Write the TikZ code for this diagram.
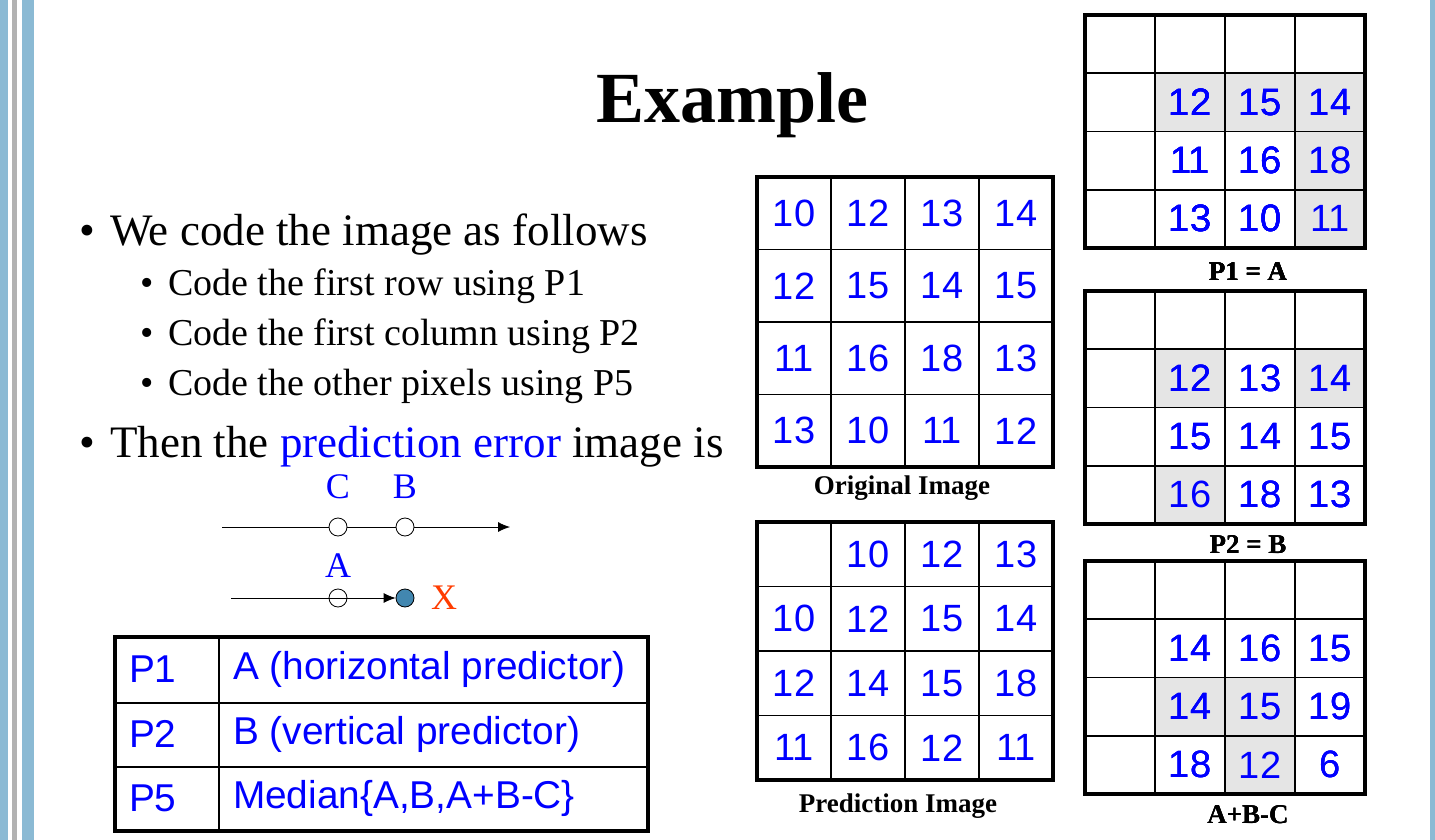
\documentclass[tikz,border=0pt]{standalone}
\usepackage{fontspec}
\setmainfont{Liberation Serif}
\newfontfamily\arial{Liberation Sans}
\usepackage{tikz}
\usetikzlibrary{arrows.meta}

\definecolor{stripe}{RGB}{139,186,212}
\definecolor{pixblue}{RGB}{0,0,255}
\definecolor{dotfill}{RGB}{66,135,176}
\definecolor{xred}{RGB}{255,60,0}

% one 4x4 grid: x0, y0, cell width, cell height, name, values
\newcommand\pixgrid[6]{%
 \foreach \v [count=\k from 0] in {#6}
   {
   \pgfmathtruncatemacro\r{int(\k/4)}
   \pgfmathtruncatemacro\c{mod(\k,4)}
   \node[num] (#5-\k) at ({#1+(\c+0.5)*#3},{#2+(\r+0.5)*#4}) {\v};
   }
 \foreach \i in {1,2,3}
   {
   \draw[line width=0.8pt] ({#1+\i*#3},#2) -- ++(0,{4*#4});
   \draw[line width=0.8pt] (#1,{#2+\i*#4}) -- ++({4*#3},0);
   }
 \draw[line width=2pt] (#1,#2) rectangle ++({4*#3},{4*#4});
}
% grey cell: x0, y0, cell width, cell height, column, row
\newcommand\shadecell[6]{%
 \fill[black!10] ({#1+#5*#3},{#2+#6*#4}) rectangle ++(#3,#4);
}

\begin{document}
\begin{tikzpicture}[x=0.5pt, y=-0.5pt,
  num/.style={font=\arial\fontsize{19}{19}\selectfont, text=pixblue, inner sep=0pt},
  gridlabel/.style={font=\bfseries\fontsize{13.5}{14}\selectfont},
  letter/.style={font=\fontsize{18}{18}\selectfont, text=pixblue},
  dot/.style={draw, circle, minimum size=9pt, inner sep=0pt, thin},
  bigtext/.style={anchor=base west, font=\fontsize{22.5}{23}\selectfont},
  subtext/.style={anchor=base west, font=\fontsize{19}{19}\selectfont},
  tabtext/.style={font=\arial\fontsize{19.4}{20}\selectfont, text=pixblue, anchor=west}]

\useasboundingbox (0,0) rectangle (1435,840);

% side stripes
\fill[stripe] (0,0) rectangle (8,840);
\fill[black!30] (12,0) rectangle (17,840);
\fill[stripe] (22,0) rectangle (34,840);
\fill[stripe] (1430,0) rectangle (1435,840);

% title and bullets
\node (title) at (732,105) {\bfseries\fontsize{36}{36}\selectfont Example};
\node[bigtext] (b1dot) at (72,245) {\textbullet};
\node[bigtext] (b1) at (103,245) {We code the image as follows};
\foreach \y/\t [count=\n] in {295/Code the first row using P1, 345/Code the first column using P2, 395/Code the other pixels using P5}
  {
  \node[subtext] (s\n dot) at (133,\y) {\textbullet};
  \node[subtext] (s\n) at (161,\y) {\t};
  }
\node[bigtext] (b2dot) at (72,457) {\textbullet};
\node[bigtext] (b2) at (103,457) {Then the \textcolor{pixblue}{prediction error} image is};

% neighbourhood sketch
\coordinate (rowC) at (222,527);
\coordinate (rowE) at (510,527);
\coordinate (rowA) at (231,598);
\draw[-{Latex[length=6pt,width=5pt]}] (rowC) -- (rowE);
\node[dot, fill=white] (C) at (338,527) {};
\node[dot, fill=white] (B) at (405,527) {};
\node[dot, fill=dotfill] (X) at (405,598) {};
\draw[-{Latex[length=6pt,width=5pt]}] (rowA) -- (X);
\node[dot] (A) at (338,598) {};
\node[letter, above=6pt] (Clab) at (C.north) {C};
\node[letter, above=6pt] (Blab) at (B.north) {B};
\node[letter, above=2pt] (Alab) at (A.north) {A};
\node[font=\fontsize{18}{18}\selectfont, text=xred, anchor=west] (Xlab) at (424,598) {X};

% predictor table
\draw[line width=2pt] (115,637) rectangle (648,831);
\draw[line width=0.8pt] (219,637) -- (219,831) (115,703) -- (648,703) (115,767) -- (648,767);
\node[tabtext] (p1) at (122,669) {P1};
\node[tabtext] (p2) at (122,734) {P2};
\node[tabtext] (p5) at (122,798) {P5};
\node[tabtext] (d1) at (226,669) {A (horizontal predictor)};
\node[tabtext] (d2) at (226,734) {B (vertical predictor)};
\node[tabtext] (d5) at (226,798) {Median\{A,B,A+B-C\}};

% original and prediction images
\pixgrid{757}{177}{74}{72.5}{orig}{10,12,13,14,12,15,14,15,11,16,18,13,13,10,11,12}
\node[gridlabel] (origlab) at (902,488) {Original Image};
\pixgrid{757}{522}{74}{64.5}{pred}{{},10,12,13,10,12,15,14,12,14,15,18,11,16,12,11}
\node[gridlabel] (predlab) at (898,806) {Prediction Image};

% candidate predictions
\foreach \c/\r in {1/1,2/1,3/1,3/2,3/3}
  \shadecell{1085}{15}{70}{58.25}{\c}{\r}
\pixgrid{1085}{15}{70}{58.25}{pa}{{},{},{},{},{},12,15,14,{},11,16,18,{},13,10,11}
\node[gridlabel] (palab) at (1248,272) {P1 = A};

\foreach \c/\r in {1/1,3/1,1/3}
  \shadecell{1085}{291}{70}{58.25}{\c}{\r}
\pixgrid{1085}{291}{70}{58.25}{pb}{{},{},{},{},{},12,13,14,{},15,14,15,{},16,18,13}
\node[gridlabel] (pblab) at (1248,545) {P2 = B};

\foreach \c/\r in {1/2,2/2,2/3}
  \shadecell{1085}{561}{70}{58.25}{\c}{\r}
\pixgrid{1085}{561}{70}{58.25}{pc}{{},{},{},{},{},14,16,15,{},14,15,19,{},18,12,6}
\node[gridlabel] (pclab) at (1248,815) {A+B-C};

\end{tikzpicture}
\end{document}
